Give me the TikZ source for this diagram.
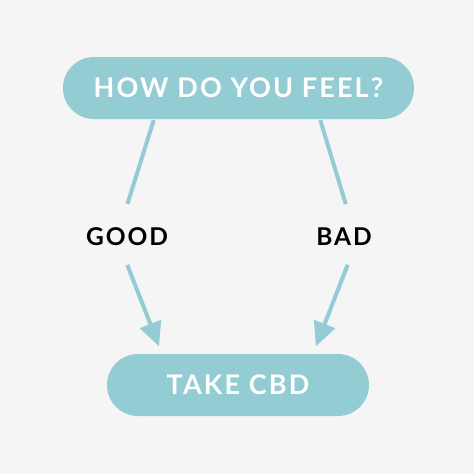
\documentclass[tikz,border=0pt]{standalone}
\usepackage{fontspec}
\setmainfont{Lato}
\newfontfamily\spaced{Lato}[LetterSpace=8]
\usetikzlibrary{arrows.meta,positioning}
\definecolor{teal}{RGB}{148,204,212}
\definecolor{paper}{RGB}{245,245,245}
\tikzset{%
    pill/.style={%
        fill=teal, rounded corners=31pt, inner sep=0pt,
        font=\spaced\bfseries\fontsize{27}{27}\selectfont, text=white
    },
    answer/.style={%
        inner sep=0pt, font=\spaced\bfseries\fontsize{24.5}{25}\selectfont
    },
    link/.style={%
        draw=teal, line width=4pt
    }
}

\begin{document}
\begin{tikzpicture}[x=1pt,y=-1pt]
    \fill[paper] (0,0) rectangle (474,474);
    \useasboundingbox (0,0) rectangle (474,474);

    \node[pill, minimum width=351pt, minimum height=62pt] (feel) at (238.5,88) {HOW DO YOU FEEL?};
    \node[pill, minimum width=262pt, minimum height=62pt] (cbd) at (238,385) {TAKE CBD};
    \node[answer] (good) at (127,237) {GOOD};
    \node[answer] (bad) at (344,237) {BAD};

    \draw[link, shorten <=1pt, shorten >=25pt]
        ([xshift=-84.5pt]feel.south) -- ([xshift=-7pt]good.north);
    \draw[link, shorten <=1pt, shorten >=25pt]
        ([xshift=81.5pt]feel.south) -- ([xshift=9pt]bad.north);

    \draw[link, -{Triangle[length=24pt,width=22pt]}, shorten <=20pt, shorten >=8pt]
        ([xshift=-7pt]good.south) -- ([xshift=-76pt]cbd.north);
    \draw[link, -{Triangle[length=24pt,width=22pt]}, shorten <=20pt, shorten >=8pt]
        ([xshift=11pt]bad.south) -- ([xshift=75pt]cbd.north);
\end{tikzpicture}
\end{document}
